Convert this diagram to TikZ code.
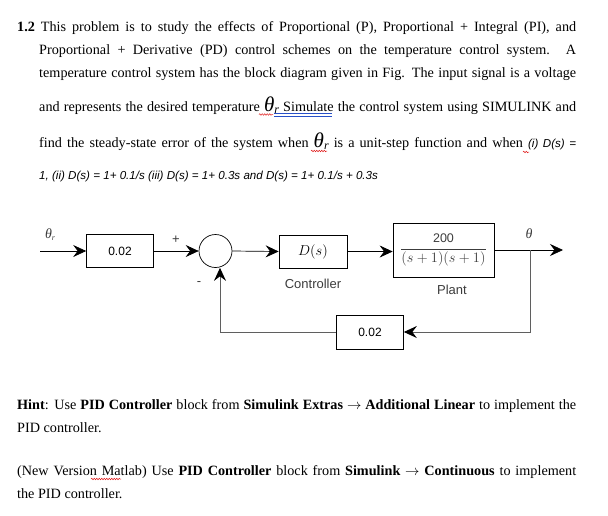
\documentclass[tikz,border=0pt]{standalone}
\usepackage{fontspec}
\setmainfont{Liberation Serif}
\newfontfamily\arial{Liberation Sans}
\usetikzlibrary{arrows.meta,decorations.pathmorphing}
\definecolor{fbgray}{RGB}{95,95,95}
\definecolor{txtgray}{RGB}{60,60,60}
\definecolor{wavered}{RGB}{225,30,30}
\definecolor{gblue}{RGB}{40,80,200}
\newcommand\thr{{\fontsize{21}{21}\selectfont\itshape θ}\raisebox{-2pt}{\fontsize{12}{12}\selectfont\itshape r}}
\newcommand\ai{\arial\itshape\fontsize{11.6}{14}\selectfont}
\begin{document}
\begin{tikzpicture}[x=1pt,y=-1pt,
  txt/.style={anchor=base west, inner sep=0pt, font=\fontsize{14.2}{17}\selectfont},
  blk/.style={draw, line width=0.7pt, minimum width=67pt, minimum height=33pt, inner sep=0pt, font=\arial\fontsize{12}{14}\selectfont},
  sig/.style={line width=0.7pt, -{Stealth[length=13pt,width=12pt,inset=4.5pt]}},
  fbline/.style={draw=fbgray, line width=1pt},
  fbtip/.style={-{Stealth[length=13pt,width=12pt,inset=4.5pt,color=black]}},
  lbl/.style={inner sep=0pt, font=\arial\fontsize{13}{15}\selectfont, text=txtgray},
  wave/.style={draw=wavered, line width=0.5pt, decorate, decoration={snake, amplitude=0.8pt, segment length=2.5pt}}]
\useasboundingbox[fill=white] (0,0) rectangle (608,515);

% ---------- problem text ----------
\node[txt] (t1) at (17,31) {\makebox[559pt][s]{\textbf{1.2} This problem is to study the effects of Proportional (P), Proportional + Integral (PI), and}};
\node[txt] (t2) at (39,54) {\makebox[537pt][s]{Proportional + Derivative (PD) control schemes on the temperature control system. A}};
\node[txt] (t3) at (39,77) {\makebox[537pt][s]{temperature control system has the block diagram given in Fig. The input signal is a voltage}};
\node[txt] (t4) at (39,111) {\makebox[537pt][s]{and represents the desired temperature \thr{} Simulate the control system using SIMULINK and}};
\node[txt] (t5) at (39,147) {\makebox[537pt][s]{find the steady-state error of the system when \thr{} is a unit-step function and when {\ai (i) D(s) =}}};
\node[txt] (t6) at (39,179) {\ai 1, (ii) D(s) = 1+ 0.1/s (iii) D(s) = 1+ 0.3s and D(s) = 1+ 0.1/s + 0.3s};

% proofing marks
\draw[wave] (259,114.5) -- (273,114.5);
\draw[gblue, line width=0.6pt] (274,113.5) -- (332,113.5) (274,116) -- (332,116);
\draw[wave] (311,151) -- (327,151);
\draw[wave] (523,152) -- (529,152);

% ---------- block diagram ----------
\coordinate (in) at (40,251);
\node[blk] (g1) at (120,251) {0.02};
\node[draw, circle, minimum size=33pt, inner sep=0pt, line width=0.7pt] (sum) at (215.5,251) {};
\node[blk, minimum width=68pt] (ctrl) at (313,251.5) {\fontsize{15}{17}\selectfont$D(s)$};
\node[blk, minimum width=101pt, minimum height=54pt, text=txtgray] (plant) at (443.5,250)
  {\fontsize{14.5}{17}\selectfont$\displaystyle\frac{\mbox{\arial\fontsize{12.5}{14}\selectfont 200}}{(s+1)(s+1)}$};
\coordinate (br) at (530,250);
\coordinate (out) at (563,250);
\node[blk, minimum height=34pt] (fb) at (370,332) {0.02};
\coordinate (fbr) at (530,332);
\coordinate (fbc) at (220,332);

\draw[sig] (in) -- (g1.west);
\draw[sig] (g1.east) -- (sum.west);
\draw[sig] (sum.east) -- (ctrl.west);
\draw[sig] (ctrl.east) -- (ctrl.east -| plant.west);
\draw[sig] (plant.east) -- (out);
\draw[fbline, fbtip] (br) -- (fbr) -- (fb.east);
\draw[fbline] (fb.west) -- (fbc);
\draw[fbline, fbtip] (fbc) -- (fbc |- sum.south);

\node[inner sep=0pt, text=txtgray, font=\fontsize{14}{15}\selectfont\itshape] (thin) at (50,235) {θ\raisebox{-2pt}{\fontsize{8}{8}\selectfont r}};
\node[inner sep=0pt, text=txtgray, font=\fontsize{14}{15}\selectfont\itshape] (thout) at (529,234) {θ};
\node[lbl] (plus) at (176,240) {+};
\node[lbl] (minus) at (199,284) {-};
\node[lbl] (clab) at (313,284) {Controller};
\node[lbl] (plab) at (452,290) {Plant};

% ---------- hint text ----------
\node[txt] (h1) at (17,409) {\makebox[559pt][s]{\textbf{Hint}: Use \textbf{PID Controller} block from \textbf{Simulink Extras $\rightarrow$ Additional Linear} to implement the}};
\node[txt] (h2) at (17,432) {PID controller.};
\node[txt] (h3) at (17,475) {\makebox[559pt][s]{(New Version Matlab) Use \textbf{PID Controller} block from \textbf{Simulink $\rightarrow$ Continuous} to implement}};
\node[txt] (h4) at (17,498) {the PID controller.};
\draw[wave] (91,479) -- (121,479);
\end{tikzpicture}
\end{document}
